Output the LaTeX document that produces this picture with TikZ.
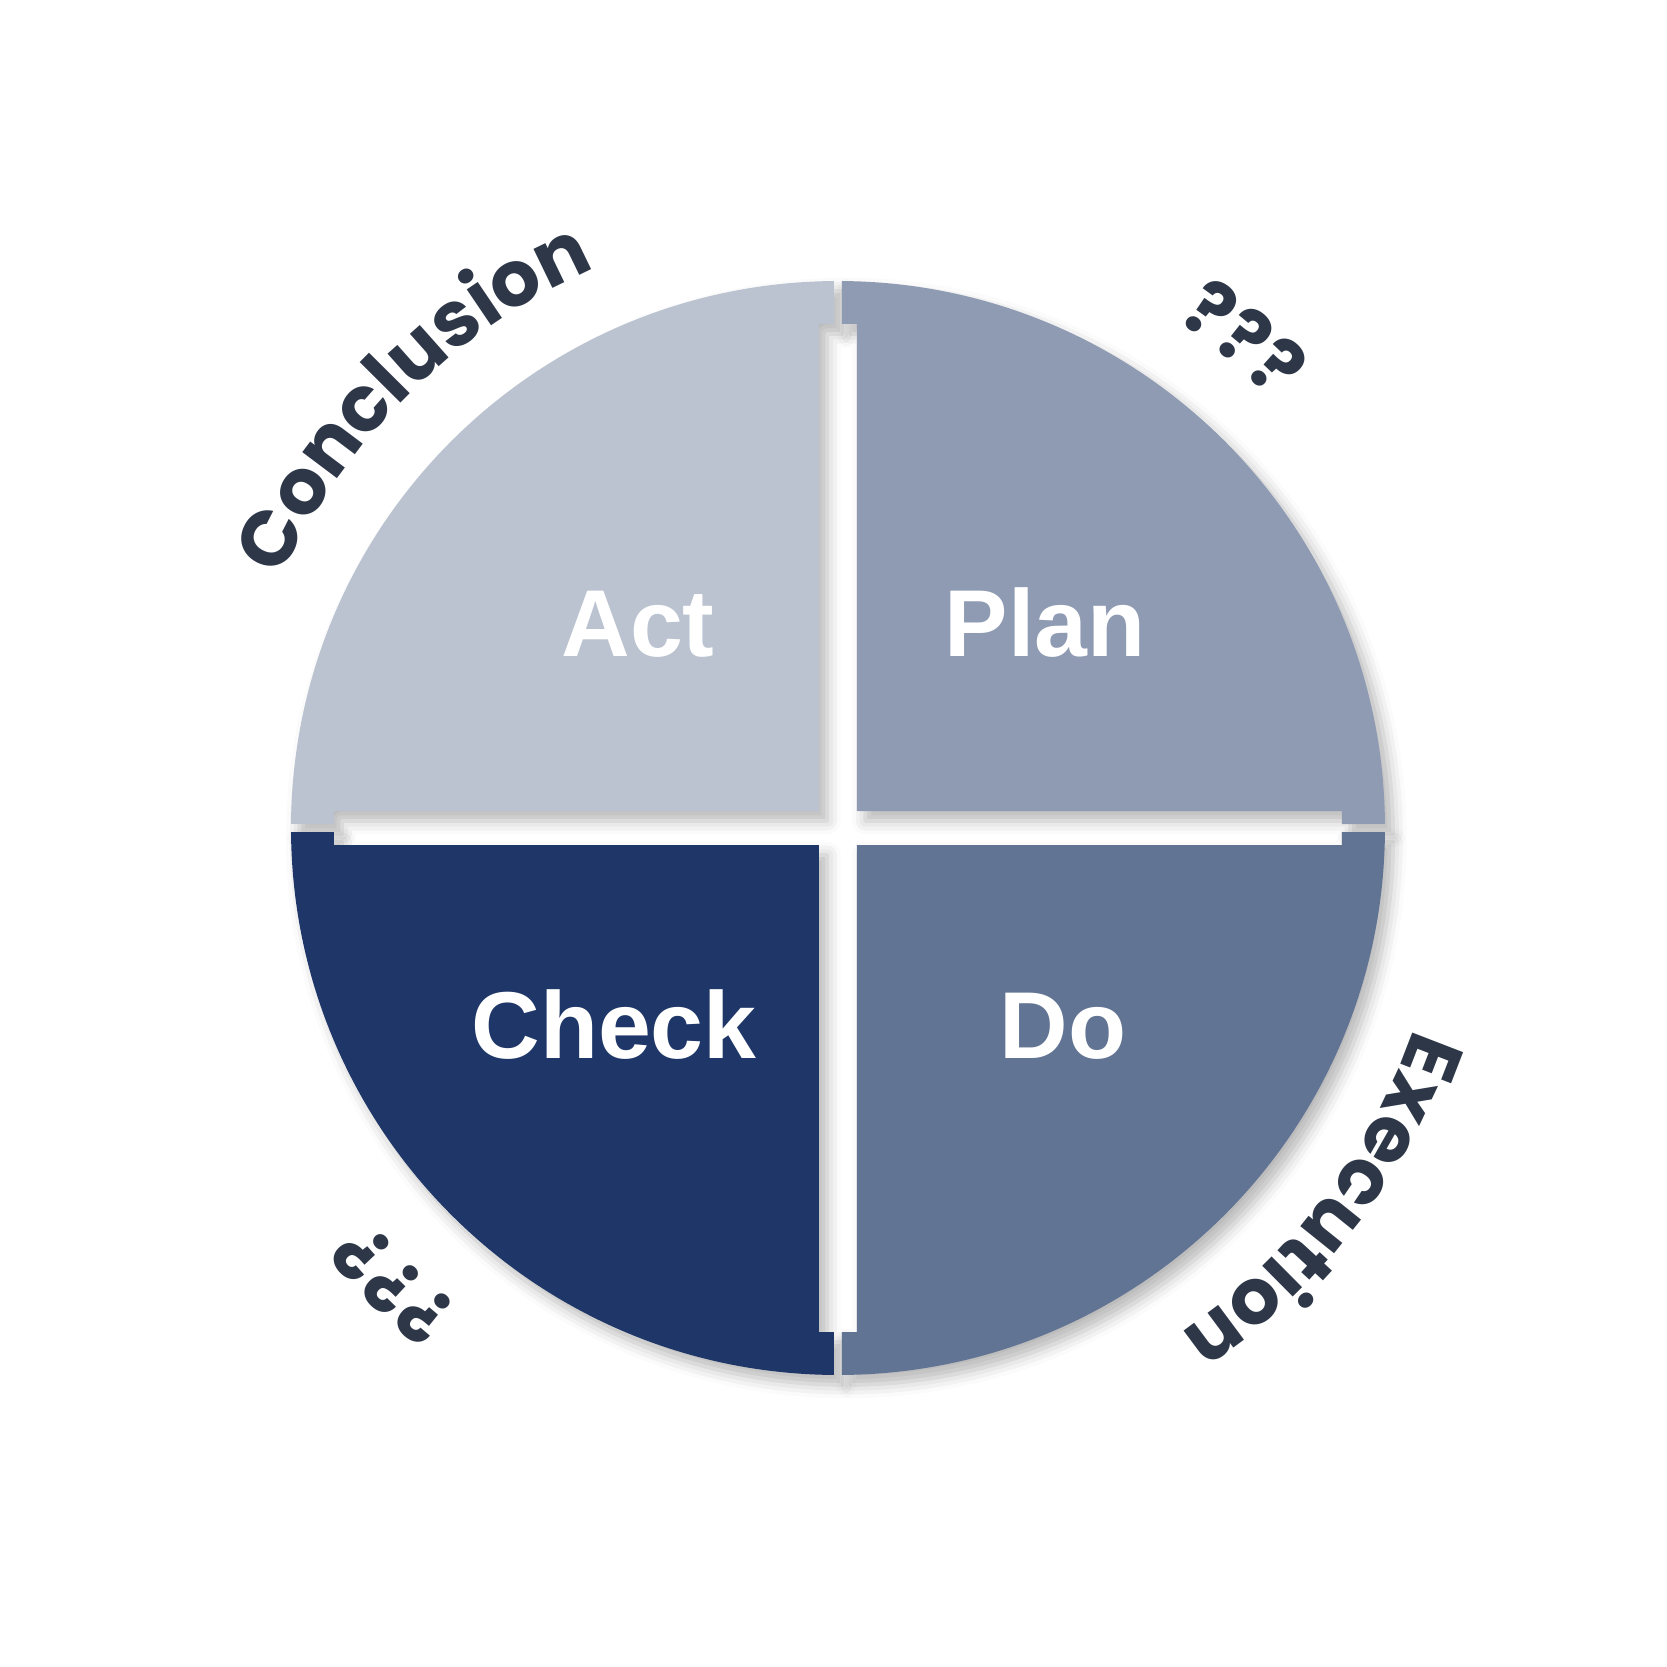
\documentclass[tikz,border=0pt]{standalone}
\usepackage{fontspec}
\newfontfamily\quadfont{Liberation Sans}
\newfontfamily\arcfont{Poppins}
\usetikzlibrary{decorations.text,shadows.blur}
\definecolor{actfill}{HTML}{BBC3D1}
\definecolor{planfill}{HTML}{8F9BB3}
\definecolor{dofill}{HTML}{627494}
\definecolor{checkfill}{HTML}{1F3768}
\definecolor{ink}{HTML}{2E3748}
\tikzset{
  quadrant/.style={fill=#1, blur shadow={shadow xshift=2.5pt, shadow yshift=-3pt,
      shadow blur radius=4pt, shadow opacity=28}},
  quadlabel/.style={text=white, font=\quadfont\bfseries\fontsize{28.5}{30}\selectfont,
      anchor=base, inner sep=0pt},
  arclabel/.style={decorate, decoration={text along path, text align=center,
      text={|\arcfont\bfseries\fontsize{23.3}{24}\selectfont\color{ink}|#1}}}
}

\begin{document}
\begin{tikzpicture}[x=0.3pt, y=0.3pt]
\useasboundingbox (-838,-839) rectangle (829,828);
\foreach \sx/\sy/\a/\b/\col in {-1/1/179.58/90.42/actfill, 1/1/0.42/89.58/planfill,
    -1/-1/180.42/269.58/checkfill, 1/-1/-0.42/-89.58/dofill}
  \path[quadrant=\col] ({19*\sx},{17*\sy}) -- ({504*\sx},{17*\sy}) -- ({504*\sx},{4*\sy})
    -- (\a:547) arc[start angle=\a, end angle=\b, radius=547]
    -- ({4*\sx},{504*\sy}) -- ({19*\sx},{504*\sy}) -- cycle;

\node[quadlabel] (act) at (-200,172) {Act};
\node[quadlabel] (plan) at (207,172) {Plan};
\node[quadlabel] (check) at (-224,-230) {Check};
\node[quadlabel] (do) at (225,-230) {Do};

\path[arclabel=Conclusion] (174.6:610) arc[start angle=174.6, end angle=94.6, radius=610];
\path[arclabel=???] (90.3:610) arc[start angle=90.3, end angle=10.3, radius=610];
\path[arclabel=Execution] (2.5:610) arc[start angle=2.5, end angle=-77.5, radius=610];
\path[arclabel=???] (-94.3:610) arc[start angle=-94.3, end angle=-174.3, radius=610];
\end{tikzpicture}
\end{document}
